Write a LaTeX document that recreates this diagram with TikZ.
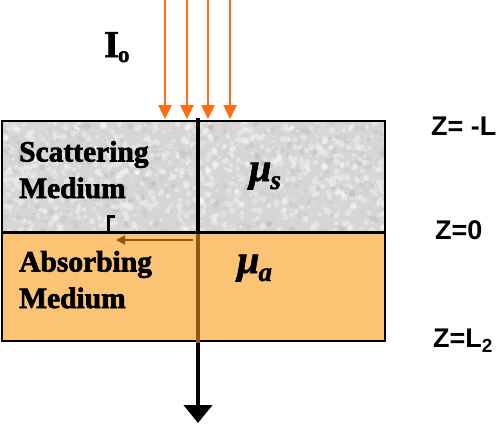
\documentclass[tikz,border=0pt]{standalone}
\usepackage{fontspec}
\setmainfont{Liberation Serif}
\newfontfamily\wideserif[FakeBold=2.2]{Liberation Serif}
\newfontfamily\heavyserif[FakeBold=1.6]{Liberation Serif}
\newfontfamily\labelsans{Liberation Sans}
\usetikzlibrary{arrows.meta}
\definecolor{beamorange}{RGB}{255,106,19}
\definecolor{absfill}{RGB}{250,196,116}
\definecolor{scatfill}{RGB}{214,214,214}
\definecolor{brownline}{RGB}{150,85,20}
\tikzset{
  medtext/.style={anchor=base west,inner sep=0pt,font=\wideserif\bfseries\fontsize{29.5}{32}\selectfont},
  mutext/.style={anchor=base west,inner sep=0pt,font=\heavyserif\bfseries\itshape\fontsize{40}{42}\selectfont},
  zlabel/.style={anchor=base west,inner sep=0pt,font=\labelsans\bfseries\fontsize{27}{30}\selectfont},
  beam/.style={draw=beamorange,line width=2.5pt,-{Triangle[width=13pt,length=14pt]}},
  mainray/.style={draw=black,line width=4.5pt,-{Triangle[width=28pt,length=18pt]}},
  backray/.style={draw=brownline,line width=2pt,-{Triangle[width=9pt,length=9pt]}},
  border/.style={draw=black,line width=2.5pt}
}
\begin{document}
\begin{tikzpicture}[x=1pt,y=-1pt]
\useasboundingbox (0,0) rectangle (500,424);
% layers
\fill[scatfill] (2,121) rectangle (385,232);
\pgfmathsetseed{7}
\begin{scope}
\clip (2,121) rectangle (385,232);
\foreach \i in {1,...,1600}{
  \pgfmathsetmacro{\rx}{2+383*rnd}
  \pgfmathsetmacro{\ry}{121+111*rnd}
  \pgfmathsetmacro{\rr}{1.2+2.5*rnd}
  \pgfmathsetmacro{\gv}{10+25*rnd}
  \pgfmathsetmacro{\lt}{rnd}
  \ifdim\lt pt<0.5pt
    \fill[black!\gv!white,opacity=0.25] (\rx,\ry) circle[radius=\rr];
  \else
    \fill[white,opacity=0.35] (\rx,\ry) circle[radius=\rr];
  \fi
}
\end{scope}
\fill[absfill] (2,232) rectangle (385,341);
\draw[border] (2,121) rectangle (385,341);
\draw[black,line width=3pt] (2,232) -- (385,232);
% texts
\node[anchor=base west,inner sep=0pt,font=\heavyserif\bfseries\fontsize{38}{40}\selectfont] (Io) at (104,57) {I\kern-1pt\raisebox{-5pt}{\fontsize{23}{24}\selectfont o}};
\node[medtext] (scat1) at (19,161.5) {Scattering};
\node[medtext] (scat2) at (19,198) {Medium};
\node[medtext] (abs1) at (19,271.5) {Absorbing};
\node[medtext] (abs2) at (19,308) {Medium};
\node[mutext] (mus) at (249,181) {μ\kern-1pt\raisebox{-8pt}{\fontsize{27}{28}\selectfont s}};
\node[mutext] (mua) at (237,273) {μ\kern-1pt\raisebox{-8pt}{\fontsize{27}{28}\selectfont a}};
\node[zlabel] (zL) at (431,135) {Z= -L};
\node[zlabel] (z0) at (435,239) {Z=0};
\node[zlabel] (zL2) at (433,347) {Z=L\raisebox{-5pt}{\fontsize{19}{20}\selectfont 2}};
% incident beams
\foreach \n/\x in {a/165,b/187,c/208,d/230}{
  \coordinate (s\n) at (\x,-2);
  \coordinate (e\n) at (\x,119);
  \draw[beam] (s\n) -- (e\n);
}
% main ray
\coordinate (rtop) at (198,118);
\coordinate (rtip) at (198,423);
\coordinate (rin) at (198,233.5);
\coordinate (rout) at (198,343);
\draw[mainray] (rtop) -- (rtip);
\draw[brownline,line width=4.5pt] (rin) -- (rout);
% back-scattered ray
\coordinate (bstart) at (193,240);
\coordinate (bend) at (116,240);
\draw[backray] (bstart) -- (bend);
% small mark
\coordinate (m1) at (108,232);
\coordinate (m2) at (108,216.5);
\coordinate (m3) at (115,216.5);
\draw[black,line width=3pt] (m1) -- (m2) -- (m3);
\end{tikzpicture}
\end{document}
